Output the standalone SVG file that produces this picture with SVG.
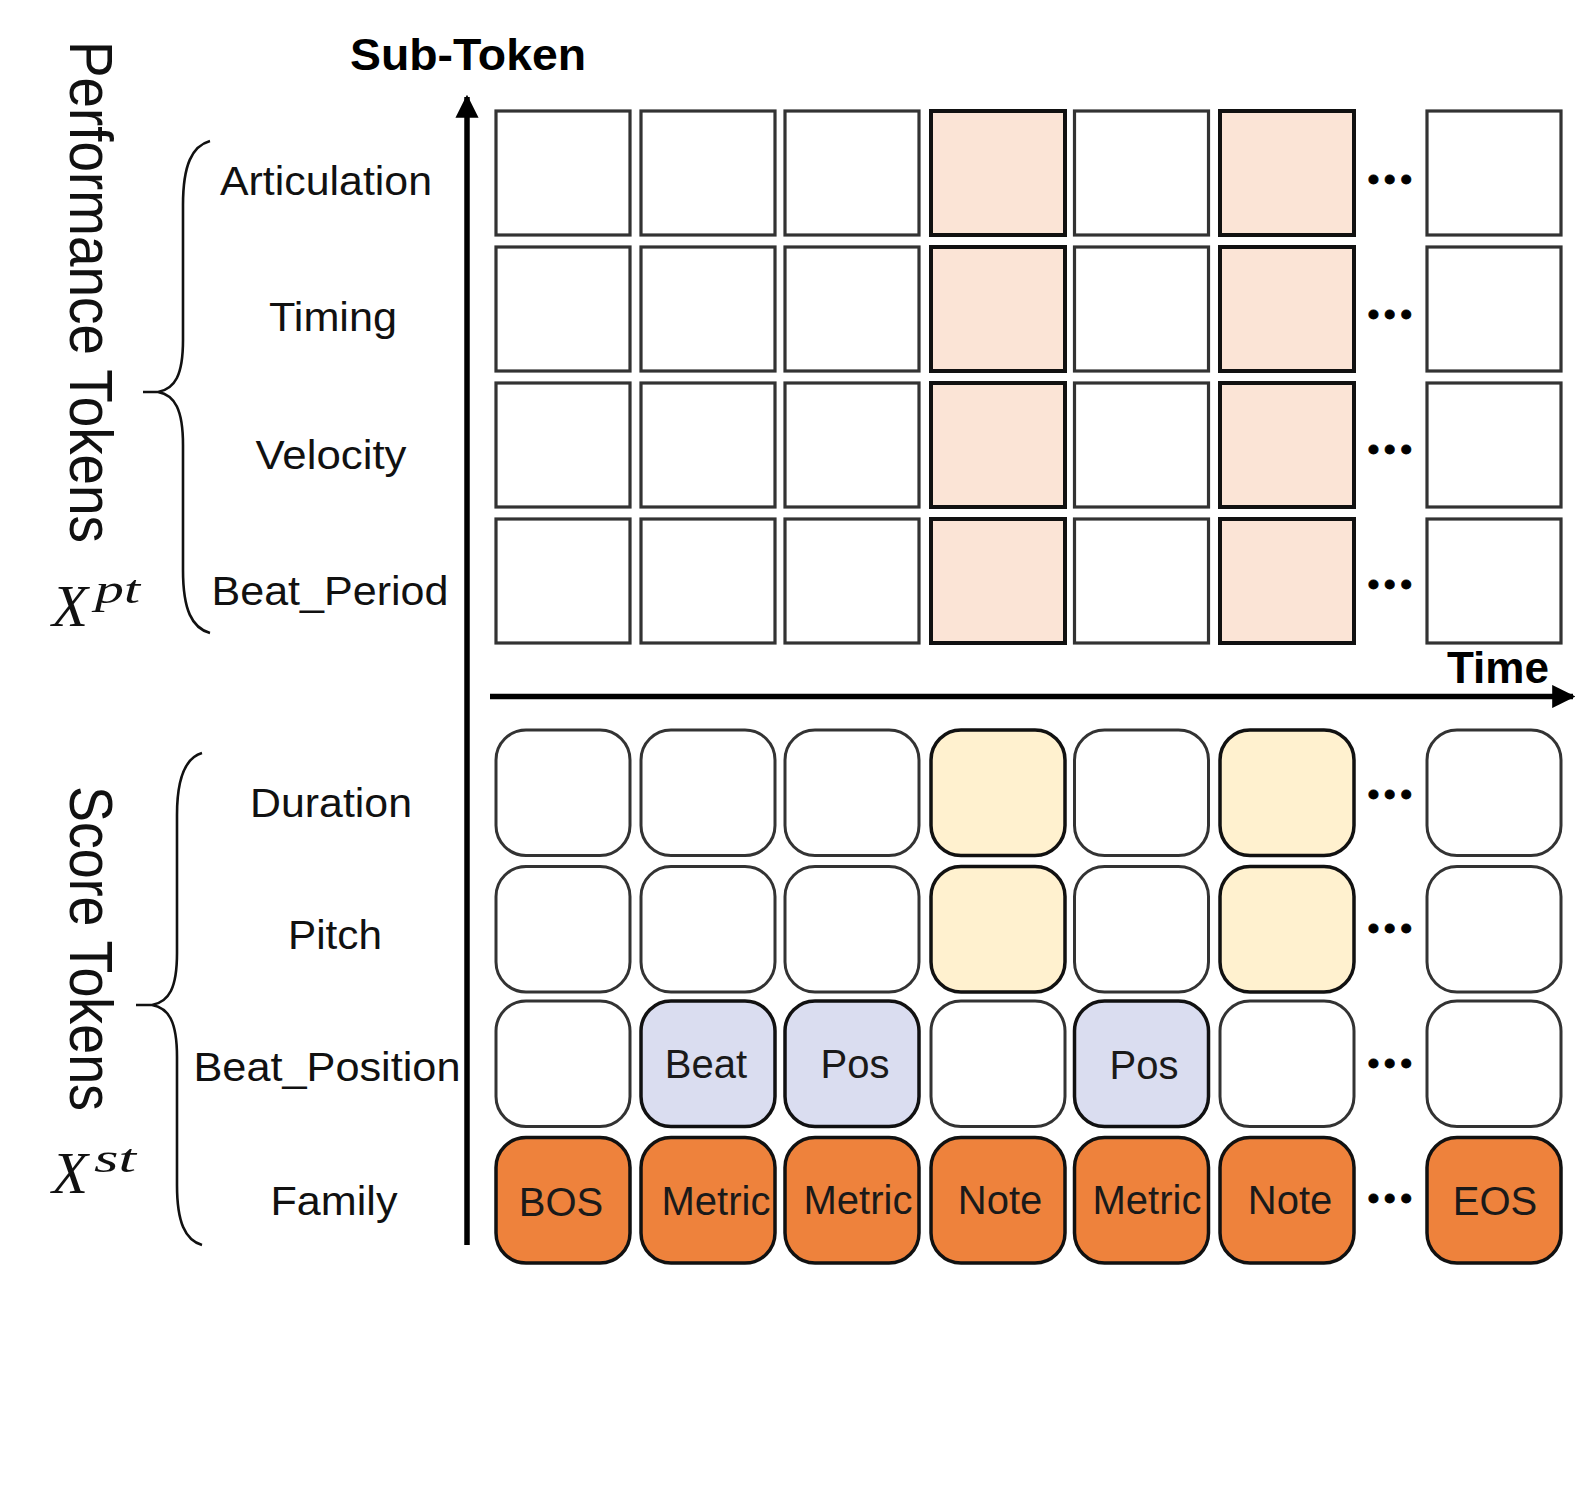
<svg xmlns="http://www.w3.org/2000/svg" width="1584" height="1492" viewBox="0 0 1584 1492">
<style>
.lbl{font-family:"Liberation Sans",Arial,sans-serif;font-size:41px;fill:#111;text-anchor:middle}
.big{font-family:"Liberation Sans",Arial,sans-serif;font-size:61px;fill:#111}
.ttl{font-family:"Liberation Sans",Arial,sans-serif;font-size:44px;font-weight:bold;fill:#000}
.math{font-family:"Liberation Serif","Times New Roman",serif;font-style:italic;fill:#111}
.tok{font-family:"Liberation Sans",Arial,sans-serif;font-size:40px;fill:#1a1a1a;text-anchor:middle}
.dots{font-family:"Liberation Sans",Arial,sans-serif;font-size:34px;letter-spacing:4.5px;fill:#000;stroke:#000;stroke-width:0.8;text-anchor:middle}
.sq{fill:#fff;stroke:#333;stroke-width:3.2}
.sqh{fill:#FBE4D6;stroke:#111;stroke-width:4}
.rd{fill:#fff;stroke:#333;stroke-width:3}
.rdy{fill:#FFF1CF;stroke:#111;stroke-width:3.5}
.rdl{fill:#DADDF0;stroke:#111;stroke-width:3.5}
.rdo{fill:#EE823C;stroke:#111;stroke-width:3.5}
.brace{fill:none;stroke:#111;stroke-width:2.6}
.axis{fill:none;stroke:#000;stroke-width:5.5}
</style>
<defs>
<marker id="ah" viewBox="0 0 10 10" refX="9" refY="5" markerWidth="4.2" markerHeight="4.2" markerUnits="strokeWidth" orient="auto">
<path d="M0,0 L10,5 L0,10 z" fill="#000"/>
</marker>
</defs>
<rect x="0" y="0" width="1584" height="1492" fill="#fff"/>

<g id="titles">
<text class="ttl" x="350" y="70" textLength="236" lengthAdjust="spacingAndGlyphs">Sub-Token</text>
<text class="ttl" x="1447" y="683" textLength="102" lengthAdjust="spacingAndGlyphs">Time</text>
</g>

<g id="connectors">
<line class="axis" x1="467" y1="1245" x2="467" y2="97" marker-end="url(#ah)"/>
<line class="axis" x1="490" y1="696.5" x2="1573" y2="696.5" marker-end="url(#ah)"/>
<path class="brace" d="M210 141 C192 146 183 165 183 205 L183 340 C183 375 175 389 158 392 L143 392 M158 392 C175 395 183 410 183 445 L183 570 C183 610 192 628 210 633"/>
<path class="brace" d="M202 753 C185 758 177 778 177 815 L177 953 C177 988 169 1002 152 1005 L136 1005 M152 1005 C169 1008 177 1022 177 1057 L177 1185 C177 1222 185 1240 202 1245"/>
</g>

<g id="group-labels">
<text class="big" transform="translate(70,41) rotate(90)" x="0" y="0" textLength="502" lengthAdjust="spacingAndGlyphs">Performance Tokens</text>
<text class="big" transform="translate(70,786) rotate(90)" x="0" y="0" textLength="325" lengthAdjust="spacingAndGlyphs">Score Tokens</text>
<text class="math" x="52" y="626" font-size="59">X</text>
<text class="math" x="95" y="603" font-size="40" textLength="45" lengthAdjust="spacingAndGlyphs">pt</text>
<text class="math" x="52" y="1193" font-size="59">X</text>
<text class="math" x="94" y="1172" font-size="40" textLength="42" lengthAdjust="spacingAndGlyphs">st</text>
</g>

<g id="row-labels">
<text class="lbl" x="326" y="195" textLength="212" lengthAdjust="spacingAndGlyphs">Articulation</text>
<text class="lbl" x="333" y="331" textLength="128" lengthAdjust="spacingAndGlyphs">Timing</text>
<text class="lbl" x="331" y="469" textLength="151" lengthAdjust="spacingAndGlyphs">Velocity</text>
<text class="lbl" x="330" y="605" textLength="237" lengthAdjust="spacingAndGlyphs">Beat_Period</text>
<text class="lbl" x="331" y="817" textLength="162" lengthAdjust="spacingAndGlyphs">Duration</text>
<text class="lbl" x="335" y="949" textLength="94" lengthAdjust="spacingAndGlyphs">Pitch</text>
<text class="lbl" x="327" y="1081" textLength="267" lengthAdjust="spacingAndGlyphs">Beat_Position</text>
<text class="lbl" x="334" y="1215" textLength="127" lengthAdjust="spacingAndGlyphs">Family</text>
</g>

<g id="performance-tokens">
<g id="pt-articulation">
<rect class="sq" x="496" y="111" width="134" height="124"/>
<rect class="sq" x="641" y="111" width="134" height="124"/>
<rect class="sq" x="785" y="111" width="134" height="124"/>
<rect class="sqh" x="931" y="111" width="134" height="124"/>
<rect class="sq" x="1074.5" y="111" width="134" height="124"/>
<rect class="sqh" x="1220" y="111" width="134" height="124"/>
<text class="dots" x="1392" y="190.6">•••</text>
<rect class="sq" x="1427" y="111" width="134" height="124"/>
</g>
<g id="pt-timing">
<rect class="sq" x="496" y="247" width="134" height="124"/>
<rect class="sq" x="641" y="247" width="134" height="124"/>
<rect class="sq" x="785" y="247" width="134" height="124"/>
<rect class="sqh" x="931" y="247" width="134" height="124"/>
<rect class="sq" x="1074.5" y="247" width="134" height="124"/>
<rect class="sqh" x="1220" y="247" width="134" height="124"/>
<text class="dots" x="1392" y="325.6">•••</text>
<rect class="sq" x="1427" y="247" width="134" height="124"/>
</g>
<g id="pt-velocity">
<rect class="sq" x="496" y="383" width="134" height="124"/>
<rect class="sq" x="641" y="383" width="134" height="124"/>
<rect class="sq" x="785" y="383" width="134" height="124"/>
<rect class="sqh" x="931" y="383" width="134" height="124"/>
<rect class="sq" x="1074.5" y="383" width="134" height="124"/>
<rect class="sqh" x="1220" y="383" width="134" height="124"/>
<text class="dots" x="1392" y="460.6">•••</text>
<rect class="sq" x="1427" y="383" width="134" height="124"/>
</g>
<g id="pt-beat-period">
<rect class="sq" x="496" y="519" width="134" height="124"/>
<rect class="sq" x="641" y="519" width="134" height="124"/>
<rect class="sq" x="785" y="519" width="134" height="124"/>
<rect class="sqh" x="931" y="519" width="134" height="124"/>
<rect class="sq" x="1074.5" y="519" width="134" height="124"/>
<rect class="sqh" x="1220" y="519" width="134" height="124"/>
<text class="dots" x="1392" y="595.6">•••</text>
<rect class="sq" x="1427" y="519" width="134" height="124"/>
</g>
</g>

<g id="score-tokens">
<g id="st-duration">
<rect class="rd" x="496" y="730" width="134" height="125.5" rx="30"/>
<rect class="rd" x="641" y="730" width="134" height="125.5" rx="30"/>
<rect class="rd" x="785" y="730" width="134" height="125.5" rx="30"/>
<rect class="rdy" x="931" y="730" width="134" height="125.5" rx="30"/>
<rect class="rd" x="1074.5" y="730" width="134" height="125.5" rx="30"/>
<rect class="rdy" x="1220" y="730" width="134" height="125.5" rx="30"/>
<text class="dots" x="1392" y="805.6">•••</text>
<rect class="rd" x="1427" y="730" width="134" height="125.5" rx="30"/>
</g>
<g id="st-pitch">
<rect class="rd" x="496" y="866.5" width="134" height="125.5" rx="30"/>
<rect class="rd" x="641" y="866.5" width="134" height="125.5" rx="30"/>
<rect class="rd" x="785" y="866.5" width="134" height="125.5" rx="30"/>
<rect class="rdy" x="931" y="866.5" width="134" height="125.5" rx="30"/>
<rect class="rd" x="1074.5" y="866.5" width="134" height="125.5" rx="30"/>
<rect class="rdy" x="1220" y="866.5" width="134" height="125.5" rx="30"/>
<text class="dots" x="1392" y="939.6">•••</text>
<rect class="rd" x="1427" y="866.5" width="134" height="125.5" rx="30"/>
</g>
<g id="st-beat-position">
<rect class="rd" x="496" y="1001" width="134" height="125.5" rx="30"/>
<rect class="rdl" x="641" y="1001" width="134" height="125.5" rx="30"/>
<text class="tok" x="706" y="1078">Beat</text>
<rect class="rdl" x="785" y="1001" width="134" height="125.5" rx="30"/>
<text class="tok" x="855" y="1078">Pos</text>
<rect class="rd" x="931" y="1001" width="134" height="125.5" rx="30"/>
<rect class="rdl" x="1074.5" y="1001" width="134" height="125.5" rx="30"/>
<text class="tok" x="1144" y="1079">Pos</text>
<rect class="rd" x="1220" y="1001" width="134" height="125.5" rx="30"/>
<text class="dots" x="1392" y="1074.6">•••</text>
<rect class="rd" x="1427" y="1001" width="134" height="125.5" rx="30"/>
</g>
<g id="st-family">
<rect class="rdo" x="496" y="1137.5" width="134" height="125.5" rx="30"/>
<text class="tok" x="561" y="1216">BOS</text>
<rect class="rdo" x="641" y="1137.5" width="134" height="125.5" rx="30"/>
<text class="tok" x="716" y="1215">Metric</text>
<rect class="rdo" x="785" y="1137.5" width="134" height="125.5" rx="30"/>
<text class="tok" x="858" y="1214">Metric</text>
<rect class="rdo" x="931" y="1137.5" width="134" height="125.5" rx="30"/>
<text class="tok" x="1000" y="1214">Note</text>
<rect class="rdo" x="1074.5" y="1137.5" width="134" height="125.5" rx="30"/>
<text class="tok" x="1147" y="1214">Metric</text>
<rect class="rdo" x="1220" y="1137.5" width="134" height="125.5" rx="30"/>
<text class="tok" x="1290" y="1214">Note</text>
<text class="dots" x="1392" y="1209.6">•••</text>
<rect class="rdo" x="1427" y="1137.5" width="134" height="125.5" rx="30"/>
<text class="tok" x="1495" y="1215">EOS</text>
</g>
</g>
</svg>
